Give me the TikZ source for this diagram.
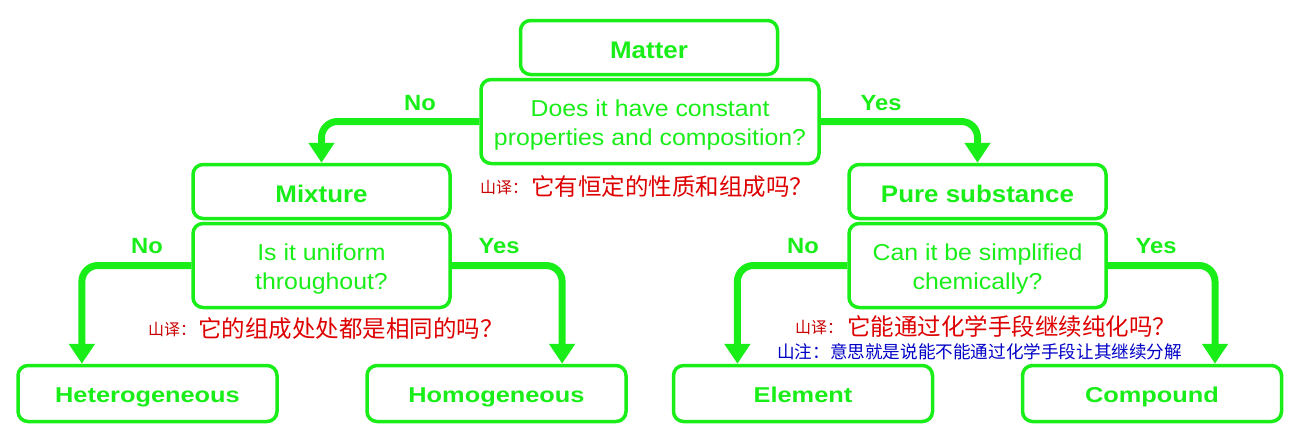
\documentclass[tikz,border=0pt]{standalone}
\usepackage{fontspec}
\setmainfont{Liberation Sans}[FakeStretch=1.08]
\newfontfamily\widefont{Liberation Sans}[FakeStretch=1.18]
\newfontfamily\cjk{Noto Sans CJK SC}
\usetikzlibrary{arrows.meta,calc}
\definecolor{grn}{RGB}{25,238,25}
\definecolor{cred}{RGB}{222,0,0}
\definecolor{dred}{RGB}{200,0,0}
\definecolor{cblue}{RGB}{0,0,200}
\newcommand{\toppad}{\rule{0pt}{24pt}}
\tikzset{
  box/.style={draw=grn, line width=3.5pt, rounded corners=10pt, fill=white,
    text=grn, inner sep=0pt},
  titlebox/.style={box, minimum width=257pt, minimum height=54pt,
    text height=22pt, text depth=1pt,
    font=\fontsize{24}{29}\selectfont\bfseries},
  qbox/.style={box, align=center, minimum width=257pt, minimum height=84pt,
    font=\fontsize{23}{29.5}\selectfont},
  leafbox/.style={box, minimum width=259pt, minimum height=56pt,
    text height=18pt, text depth=1pt,
    font=\widefont\fontsize{21.5}{25}\selectfont\bfseries},
  conn/.style={draw=grn, line width=7pt, rounded corners=16pt,
    -{Triangle[width=25pt,length=20pt]}},
  lbl/.style={text=grn, font=\fontsize{22}{26}\selectfont\bfseries, inner sep=0pt},
  small/.style={text=dred, font=\cjk\fontsize{16}{18}\selectfont, inner sep=0pt, anchor=west},
  big/.style={text=cred, font=\cjk\fontsize{23.5}{26}\selectfont, inner sep=0pt, anchor=west},
  note/.style={text=cblue, font=\cjk\fontsize{17.6}{20}\selectfont, inner sep=0pt, anchor=west}
}
\begin{document}
\begin{tikzpicture}[x=1pt,y=-1pt]
\useasboundingbox[fill=white] (0,0) rectangle (1300,440);
% top
\node[titlebox] (matter) at (649,47.5) {Matter};
\node[qbox, minimum width=338pt] (q1) at (650,121.5) {\toppad Does it have constant\\properties and composition?};
% middle
\node[titlebox] (mixture) at (321.5,191.5) {Mixture};
\node[qbox] (q2) at (321.5,265.5) {\toppad Is it uniform\\throughout?};
\node[titlebox] (pure) at (977.5,191.5) {Pure substance};
\node[qbox] (q3) at (977.5,265.5) {\toppad Can it be simplified\\chemically?};
% leaves
\node[leafbox] (het) at (147.5,393.5) {Heterogeneous};
\node[leafbox] (hom) at (496.5,393.5) {Homogeneous};
\node[leafbox] (elem) at (803,393.5) {Element};
\node[leafbox] (comp) at (1152,393.5) {Compound};
% targets
\coordinate (hetin) at ($(het.north west)!0.25!(het.north east)$);
\coordinate (homin) at ($(hom.north west)!0.75!(hom.north east)$);
\coordinate (elemin) at ($(elem.north west)!0.25!(elem.north east)$);
\coordinate (compin) at ($(comp.north west)!0.74!(comp.north east)$);
% connectors
\draw[conn] (q1.west) -| (mixture.north);
\draw[conn] (q1.east) -| (pure.north);
\draw[conn] (q2.west) -| (hetin);
\draw[conn] (q2.east) -| (homin);
\draw[conn] (q3.west) -| (elemin);
\draw[conn] (q3.east) -| (compin);
% labels
\node[lbl] (l1) at (420,103) {No};
\node[lbl] (l2) at (881,103) {Yes};
\node[lbl] (l3) at (147,246) {No};
\node[lbl] (l4) at (499,246) {Yes};
\node[lbl] (l5) at (803,246) {No};
\node[lbl] (l6) at (1156,246) {Yes};
% chinese annotations
\node[small] (c1a) at (480,188) {山译：};
\node[big] (c1b) at (531,187) {它有恒定的性质和组成吗？};
\node[small] (c2a) at (148,330) {山译：};
\node[big] (c2b) at (198,329) {它的组成处处都是相同的吗？};
\node[small] (c3a) at (795,328) {山译：};
\node[big] (c3b) at (847,327) {它能通过化学手段继续纯化吗？};
\node[note] (c4) at (777,352) {山注：意思就是说能不能通过化学手段让其继续分解};
\end{tikzpicture}
\end{document}
